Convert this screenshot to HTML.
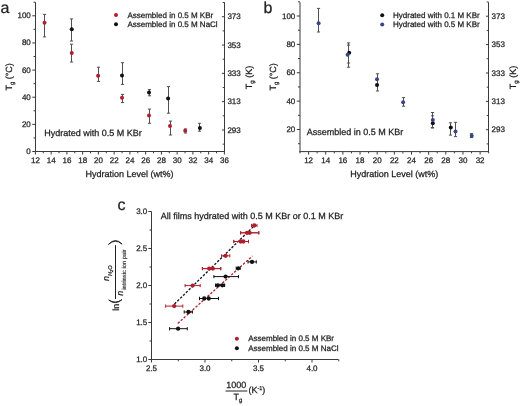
<!DOCTYPE html>
<html><head><meta charset="utf-8"><title>Figure</title>
<style>
html,body{margin:0;padding:0;background:#fff;}
body{width:520px;height:406px;overflow:hidden;}
svg{display:block;text-rendering:geometricPrecision;}
text{stroke:#222;stroke-width:0.25px;font-family:"Liberation Sans",Arial,Helvetica,sans-serif;}
</style></head>
<body>
<svg width="520" height="406" viewBox="0 0 520 406">
<rect width="520" height="406" fill="#fff"/>
<line x1="35.50" y1="2.30" x2="35.50" y2="152.00" stroke="#3a3a3a" stroke-width="1" />
<line x1="35.00" y1="151.50" x2="225.00" y2="151.50" stroke="#3a3a3a" stroke-width="1" />
<line x1="224.50" y1="2.30" x2="224.50" y2="151.50" stroke="#3a3a3a" stroke-width="1" />
<line x1="32.30" y1="151.50" x2="35.50" y2="151.50" stroke="#3a3a3a" stroke-width="1" />
<text x="30.80" y="154.00" font-size="8" text-anchor="end" fill="#222222" >0</text>
<line x1="33.50" y1="137.93" x2="35.50" y2="137.93" stroke="#3a3a3a" stroke-width="1" />
<line x1="32.30" y1="124.36" x2="35.50" y2="124.36" stroke="#3a3a3a" stroke-width="1" />
<text x="30.80" y="126.86" font-size="8" text-anchor="end" fill="#222222" >20</text>
<line x1="33.50" y1="110.79" x2="35.50" y2="110.79" stroke="#3a3a3a" stroke-width="1" />
<line x1="32.30" y1="97.22" x2="35.50" y2="97.22" stroke="#3a3a3a" stroke-width="1" />
<text x="30.80" y="99.72" font-size="8" text-anchor="end" fill="#222222" >40</text>
<line x1="33.50" y1="83.65" x2="35.50" y2="83.65" stroke="#3a3a3a" stroke-width="1" />
<line x1="32.30" y1="70.08" x2="35.50" y2="70.08" stroke="#3a3a3a" stroke-width="1" />
<text x="30.80" y="72.58" font-size="8" text-anchor="end" fill="#222222" >60</text>
<line x1="33.50" y1="56.51" x2="35.50" y2="56.51" stroke="#3a3a3a" stroke-width="1" />
<line x1="32.30" y1="42.94" x2="35.50" y2="42.94" stroke="#3a3a3a" stroke-width="1" />
<text x="30.80" y="45.44" font-size="8" text-anchor="end" fill="#222222" >80</text>
<line x1="33.50" y1="29.37" x2="35.50" y2="29.37" stroke="#3a3a3a" stroke-width="1" />
<line x1="32.30" y1="15.80" x2="35.50" y2="15.80" stroke="#3a3a3a" stroke-width="1" />
<text x="30.80" y="18.30" font-size="8" text-anchor="end" fill="#222222" >100</text>
<line x1="33.50" y1="2.23" x2="35.50" y2="2.23" stroke="#3a3a3a" stroke-width="1" />
<line x1="35.40" y1="151.50" x2="35.40" y2="154.50" stroke="#3a3a3a" stroke-width="1" />
<text x="35.40" y="163.20" font-size="8" text-anchor="middle" fill="#222222" >12</text>
<line x1="43.27" y1="151.50" x2="43.27" y2="153.30" stroke="#3a3a3a" stroke-width="1" />
<line x1="51.15" y1="151.50" x2="51.15" y2="154.50" stroke="#3a3a3a" stroke-width="1" />
<text x="51.15" y="163.20" font-size="8" text-anchor="middle" fill="#222222" >14</text>
<line x1="59.02" y1="151.50" x2="59.02" y2="153.30" stroke="#3a3a3a" stroke-width="1" />
<line x1="66.90" y1="151.50" x2="66.90" y2="154.50" stroke="#3a3a3a" stroke-width="1" />
<text x="66.90" y="163.20" font-size="8" text-anchor="middle" fill="#222222" >16</text>
<line x1="74.78" y1="151.50" x2="74.78" y2="153.30" stroke="#3a3a3a" stroke-width="1" />
<line x1="82.65" y1="151.50" x2="82.65" y2="154.50" stroke="#3a3a3a" stroke-width="1" />
<text x="82.65" y="163.20" font-size="8" text-anchor="middle" fill="#222222" >18</text>
<line x1="90.53" y1="151.50" x2="90.53" y2="153.30" stroke="#3a3a3a" stroke-width="1" />
<line x1="98.40" y1="151.50" x2="98.40" y2="154.50" stroke="#3a3a3a" stroke-width="1" />
<text x="98.40" y="163.20" font-size="8" text-anchor="middle" fill="#222222" >20</text>
<line x1="106.28" y1="151.50" x2="106.28" y2="153.30" stroke="#3a3a3a" stroke-width="1" />
<line x1="114.15" y1="151.50" x2="114.15" y2="154.50" stroke="#3a3a3a" stroke-width="1" />
<text x="114.15" y="163.20" font-size="8" text-anchor="middle" fill="#222222" >22</text>
<line x1="122.03" y1="151.50" x2="122.03" y2="153.30" stroke="#3a3a3a" stroke-width="1" />
<line x1="129.90" y1="151.50" x2="129.90" y2="154.50" stroke="#3a3a3a" stroke-width="1" />
<text x="129.90" y="163.20" font-size="8" text-anchor="middle" fill="#222222" >24</text>
<line x1="137.78" y1="151.50" x2="137.78" y2="153.30" stroke="#3a3a3a" stroke-width="1" />
<line x1="145.65" y1="151.50" x2="145.65" y2="154.50" stroke="#3a3a3a" stroke-width="1" />
<text x="145.65" y="163.20" font-size="8" text-anchor="middle" fill="#222222" >26</text>
<line x1="153.53" y1="151.50" x2="153.53" y2="153.30" stroke="#3a3a3a" stroke-width="1" />
<line x1="161.40" y1="151.50" x2="161.40" y2="154.50" stroke="#3a3a3a" stroke-width="1" />
<text x="161.40" y="163.20" font-size="8" text-anchor="middle" fill="#222222" >28</text>
<line x1="169.28" y1="151.50" x2="169.28" y2="153.30" stroke="#3a3a3a" stroke-width="1" />
<line x1="177.15" y1="151.50" x2="177.15" y2="154.50" stroke="#3a3a3a" stroke-width="1" />
<text x="177.15" y="163.20" font-size="8" text-anchor="middle" fill="#222222" >30</text>
<line x1="185.03" y1="151.50" x2="185.03" y2="153.30" stroke="#3a3a3a" stroke-width="1" />
<line x1="192.90" y1="151.50" x2="192.90" y2="154.50" stroke="#3a3a3a" stroke-width="1" />
<text x="192.90" y="163.20" font-size="8" text-anchor="middle" fill="#222222" >32</text>
<line x1="200.78" y1="151.50" x2="200.78" y2="153.30" stroke="#3a3a3a" stroke-width="1" />
<line x1="208.65" y1="151.50" x2="208.65" y2="154.50" stroke="#3a3a3a" stroke-width="1" />
<text x="208.65" y="163.20" font-size="8" text-anchor="middle" fill="#222222" >34</text>
<line x1="216.53" y1="151.50" x2="216.53" y2="153.30" stroke="#3a3a3a" stroke-width="1" />
<line x1="224.40" y1="151.50" x2="224.40" y2="154.50" stroke="#3a3a3a" stroke-width="1" />
<text x="224.40" y="163.20" font-size="8" text-anchor="middle" fill="#222222" >36</text>
<line x1="222.70" y1="144.16" x2="224.50" y2="144.16" stroke="#3a3a3a" stroke-width="1" />
<line x1="221.90" y1="130.00" x2="224.50" y2="130.00" stroke="#3a3a3a" stroke-width="1" />
<text x="227.40" y="132.60" font-size="8" text-anchor="start" fill="#222222" >293</text>
<line x1="222.70" y1="115.84" x2="224.50" y2="115.84" stroke="#3a3a3a" stroke-width="1" />
<line x1="221.90" y1="101.68" x2="224.50" y2="101.68" stroke="#3a3a3a" stroke-width="1" />
<text x="227.40" y="104.28" font-size="8" text-anchor="start" fill="#222222" >313</text>
<line x1="222.70" y1="87.52" x2="224.50" y2="87.52" stroke="#3a3a3a" stroke-width="1" />
<line x1="221.90" y1="73.36" x2="224.50" y2="73.36" stroke="#3a3a3a" stroke-width="1" />
<text x="227.40" y="75.96" font-size="8" text-anchor="start" fill="#222222" >333</text>
<line x1="222.70" y1="59.20" x2="224.50" y2="59.20" stroke="#3a3a3a" stroke-width="1" />
<line x1="221.90" y1="45.04" x2="224.50" y2="45.04" stroke="#3a3a3a" stroke-width="1" />
<text x="227.40" y="47.64" font-size="8" text-anchor="start" fill="#222222" >353</text>
<line x1="222.70" y1="30.88" x2="224.50" y2="30.88" stroke="#3a3a3a" stroke-width="1" />
<line x1="221.90" y1="16.72" x2="224.50" y2="16.72" stroke="#3a3a3a" stroke-width="1" />
<text x="227.40" y="19.32" font-size="8" text-anchor="start" fill="#222222" >373</text>
<line x1="222.70" y1="2.56" x2="224.50" y2="2.56" stroke="#3a3a3a" stroke-width="1" />
<line x1="71.50" y1="18.90" x2="71.50" y2="41.00" stroke="#505050" stroke-width="1.0" />
<line x1="69.90" y1="18.90" x2="73.10" y2="18.90" stroke="#505050" stroke-width="1.0" />
<line x1="69.90" y1="41.00" x2="73.10" y2="41.00" stroke="#505050" stroke-width="1.0" />
<line x1="122.50" y1="62.70" x2="122.50" y2="84.40" stroke="#505050" stroke-width="1.0" />
<line x1="120.90" y1="62.70" x2="124.10" y2="62.70" stroke="#505050" stroke-width="1.0" />
<line x1="120.90" y1="84.40" x2="124.10" y2="84.40" stroke="#505050" stroke-width="1.0" />
<line x1="149.50" y1="89.60" x2="149.50" y2="95.80" stroke="#505050" stroke-width="1.0" />
<line x1="147.90" y1="89.60" x2="151.10" y2="89.60" stroke="#505050" stroke-width="1.0" />
<line x1="147.90" y1="95.80" x2="151.10" y2="95.80" stroke="#505050" stroke-width="1.0" />
<line x1="168.50" y1="86.60" x2="168.50" y2="113.20" stroke="#505050" stroke-width="1.0" />
<line x1="166.90" y1="86.60" x2="170.10" y2="86.60" stroke="#505050" stroke-width="1.0" />
<line x1="166.90" y1="113.20" x2="170.10" y2="113.20" stroke="#505050" stroke-width="1.0" />
<line x1="199.50" y1="123.30" x2="199.50" y2="131.20" stroke="#505050" stroke-width="1.0" />
<line x1="197.90" y1="123.30" x2="201.10" y2="123.30" stroke="#505050" stroke-width="1.0" />
<line x1="197.90" y1="131.20" x2="201.10" y2="131.20" stroke="#505050" stroke-width="1.0" />
<line x1="44.50" y1="14.40" x2="44.50" y2="36.90" stroke="#505050" stroke-width="1.0" />
<line x1="42.90" y1="14.40" x2="46.10" y2="14.40" stroke="#505050" stroke-width="1.0" />
<line x1="42.90" y1="36.90" x2="46.10" y2="36.90" stroke="#505050" stroke-width="1.0" />
<line x1="71.50" y1="44.20" x2="71.50" y2="62.00" stroke="#505050" stroke-width="1.0" />
<line x1="69.90" y1="44.20" x2="73.10" y2="44.20" stroke="#505050" stroke-width="1.0" />
<line x1="69.90" y1="62.00" x2="73.10" y2="62.00" stroke="#505050" stroke-width="1.0" />
<line x1="98.50" y1="67.20" x2="98.50" y2="81.40" stroke="#505050" stroke-width="1.0" />
<line x1="96.90" y1="67.20" x2="100.10" y2="67.20" stroke="#505050" stroke-width="1.0" />
<line x1="96.90" y1="81.40" x2="100.10" y2="81.40" stroke="#505050" stroke-width="1.0" />
<line x1="122.50" y1="94.40" x2="122.50" y2="102.60" stroke="#505050" stroke-width="1.0" />
<line x1="120.90" y1="94.40" x2="124.10" y2="94.40" stroke="#505050" stroke-width="1.0" />
<line x1="120.90" y1="102.60" x2="124.10" y2="102.60" stroke="#505050" stroke-width="1.0" />
<line x1="149.50" y1="109.10" x2="149.50" y2="123.30" stroke="#505050" stroke-width="1.0" />
<line x1="147.90" y1="109.10" x2="151.10" y2="109.10" stroke="#505050" stroke-width="1.0" />
<line x1="147.90" y1="123.30" x2="151.10" y2="123.30" stroke="#505050" stroke-width="1.0" />
<line x1="170.50" y1="121.10" x2="170.50" y2="135.00" stroke="#505050" stroke-width="1.0" />
<line x1="168.90" y1="121.10" x2="172.10" y2="121.10" stroke="#505050" stroke-width="1.0" />
<line x1="168.90" y1="135.00" x2="172.10" y2="135.00" stroke="#505050" stroke-width="1.0" />
<line x1="185.50" y1="128.90" x2="185.50" y2="133.00" stroke="#505050" stroke-width="1.0" />
<line x1="183.90" y1="128.90" x2="187.10" y2="128.90" stroke="#505050" stroke-width="1.0" />
<line x1="183.90" y1="133.00" x2="187.10" y2="133.00" stroke="#505050" stroke-width="1.0" />
<circle cx="71.75" cy="29.20" r="2.0" fill="#111111"/>
<circle cx="122.00" cy="75.50" r="2.0" fill="#111111"/>
<circle cx="149.00" cy="92.60" r="2.0" fill="#111111"/>
<circle cx="168.10" cy="98.50" r="2.0" fill="#111111"/>
<circle cx="199.90" cy="128.00" r="2.0" fill="#111111"/>
<circle cx="44.50" cy="22.70" r="2.0" fill="#b01e2e"/>
<circle cx="71.75" cy="52.90" r="2.0" fill="#b01e2e"/>
<circle cx="98.10" cy="75.80" r="2.0" fill="#b01e2e"/>
<circle cx="122.00" cy="97.70" r="2.0" fill="#b01e2e"/>
<circle cx="149.00" cy="115.50" r="2.0" fill="#b01e2e"/>
<circle cx="170.00" cy="126.10" r="2.0" fill="#b01e2e"/>
<circle cx="185.20" cy="130.70" r="2.0" fill="#b01e2e"/>
<circle cx="116.00" cy="15.00" r="2.0" fill="#b01e2e"/>
<circle cx="116.00" cy="24.30" r="2.0" fill="#111111"/>
<text x="127.40" y="17.60" font-size="8" text-anchor="start" fill="#222222" >Assembled in 0.5 M KBr</text>
<text x="127.40" y="27.10" font-size="8" text-anchor="start" fill="#222222" >Assembled in 0.5 M NaCl</text>
<text x="44.30" y="135.80" font-size="9" text-anchor="start" fill="#222222" >Hydrated with 0.5 M KBr</text>
<text x="129.60" y="177.10" font-size="9" text-anchor="middle" fill="#222222" >Hydration Level (wt%)</text>
<text x="0.40" y="12.90" font-size="16" text-anchor="start" fill="#222222" >a</text>
<text transform="translate(11.5,90.6) rotate(-90)" font-size="9" fill="#222222">T<tspan font-size="6" dy="2">g</tspan><tspan dy="-2"> (°C)</tspan></text>
<text transform="translate(251.8,89.2) rotate(-90)" font-size="9" fill="#222222">T<tspan font-size="6" dy="2">g</tspan><tspan dy="-2"> (K)</tspan></text>
<line x1="300.00" y1="2.20" x2="300.00" y2="152.10" stroke="#3a3a3a" stroke-width="1" />
<line x1="299.50" y1="151.60" x2="489.00" y2="151.60" stroke="#3a3a3a" stroke-width="1" />
<line x1="488.50" y1="2.20" x2="488.50" y2="151.60" stroke="#3a3a3a" stroke-width="1" />
<line x1="298.00" y1="143.71" x2="300.00" y2="143.71" stroke="#3a3a3a" stroke-width="1" />
<line x1="296.80" y1="129.52" x2="300.00" y2="129.52" stroke="#3a3a3a" stroke-width="1" />
<text x="295.30" y="132.02" font-size="8" text-anchor="end" fill="#222222" >20</text>
<line x1="298.00" y1="115.33" x2="300.00" y2="115.33" stroke="#3a3a3a" stroke-width="1" />
<line x1="296.80" y1="101.14" x2="300.00" y2="101.14" stroke="#3a3a3a" stroke-width="1" />
<text x="295.30" y="103.64" font-size="8" text-anchor="end" fill="#222222" >40</text>
<line x1="298.00" y1="86.95" x2="300.00" y2="86.95" stroke="#3a3a3a" stroke-width="1" />
<line x1="296.80" y1="72.76" x2="300.00" y2="72.76" stroke="#3a3a3a" stroke-width="1" />
<text x="295.30" y="75.26" font-size="8" text-anchor="end" fill="#222222" >60</text>
<line x1="298.00" y1="58.57" x2="300.00" y2="58.57" stroke="#3a3a3a" stroke-width="1" />
<line x1="296.80" y1="44.38" x2="300.00" y2="44.38" stroke="#3a3a3a" stroke-width="1" />
<text x="295.30" y="46.88" font-size="8" text-anchor="end" fill="#222222" >80</text>
<line x1="298.00" y1="30.19" x2="300.00" y2="30.19" stroke="#3a3a3a" stroke-width="1" />
<line x1="296.80" y1="16.00" x2="300.00" y2="16.00" stroke="#3a3a3a" stroke-width="1" />
<text x="295.30" y="18.50" font-size="8" text-anchor="end" fill="#222222" >100</text>
<line x1="298.00" y1="1.81" x2="300.00" y2="1.81" stroke="#3a3a3a" stroke-width="1" />
<line x1="300.00" y1="151.60" x2="300.00" y2="153.40" stroke="#3a3a3a" stroke-width="1" />
<line x1="308.58" y1="151.60" x2="308.58" y2="154.60" stroke="#3a3a3a" stroke-width="1" />
<text x="308.58" y="163.40" font-size="8" text-anchor="middle" fill="#222222" >12</text>
<line x1="317.15" y1="151.60" x2="317.15" y2="153.40" stroke="#3a3a3a" stroke-width="1" />
<line x1="325.73" y1="151.60" x2="325.73" y2="154.60" stroke="#3a3a3a" stroke-width="1" />
<text x="325.73" y="163.40" font-size="8" text-anchor="middle" fill="#222222" >14</text>
<line x1="334.31" y1="151.60" x2="334.31" y2="153.40" stroke="#3a3a3a" stroke-width="1" />
<line x1="342.88" y1="151.60" x2="342.88" y2="154.60" stroke="#3a3a3a" stroke-width="1" />
<text x="342.88" y="163.40" font-size="8" text-anchor="middle" fill="#222222" >16</text>
<line x1="351.46" y1="151.60" x2="351.46" y2="153.40" stroke="#3a3a3a" stroke-width="1" />
<line x1="360.04" y1="151.60" x2="360.04" y2="154.60" stroke="#3a3a3a" stroke-width="1" />
<text x="360.04" y="163.40" font-size="8" text-anchor="middle" fill="#222222" >18</text>
<line x1="368.62" y1="151.60" x2="368.62" y2="153.40" stroke="#3a3a3a" stroke-width="1" />
<line x1="377.19" y1="151.60" x2="377.19" y2="154.60" stroke="#3a3a3a" stroke-width="1" />
<text x="377.19" y="163.40" font-size="8" text-anchor="middle" fill="#222222" >20</text>
<line x1="385.77" y1="151.60" x2="385.77" y2="153.40" stroke="#3a3a3a" stroke-width="1" />
<line x1="394.35" y1="151.60" x2="394.35" y2="154.60" stroke="#3a3a3a" stroke-width="1" />
<text x="394.35" y="163.40" font-size="8" text-anchor="middle" fill="#222222" >22</text>
<line x1="402.92" y1="151.60" x2="402.92" y2="153.40" stroke="#3a3a3a" stroke-width="1" />
<line x1="411.50" y1="151.60" x2="411.50" y2="154.60" stroke="#3a3a3a" stroke-width="1" />
<text x="411.50" y="163.40" font-size="8" text-anchor="middle" fill="#222222" >24</text>
<line x1="420.08" y1="151.60" x2="420.08" y2="153.40" stroke="#3a3a3a" stroke-width="1" />
<line x1="428.65" y1="151.60" x2="428.65" y2="154.60" stroke="#3a3a3a" stroke-width="1" />
<text x="428.65" y="163.40" font-size="8" text-anchor="middle" fill="#222222" >26</text>
<line x1="437.23" y1="151.60" x2="437.23" y2="153.40" stroke="#3a3a3a" stroke-width="1" />
<line x1="445.81" y1="151.60" x2="445.81" y2="154.60" stroke="#3a3a3a" stroke-width="1" />
<text x="445.81" y="163.40" font-size="8" text-anchor="middle" fill="#222222" >28</text>
<line x1="454.39" y1="151.60" x2="454.39" y2="153.40" stroke="#3a3a3a" stroke-width="1" />
<line x1="462.96" y1="151.60" x2="462.96" y2="154.60" stroke="#3a3a3a" stroke-width="1" />
<text x="462.96" y="163.40" font-size="8" text-anchor="middle" fill="#222222" >30</text>
<line x1="471.54" y1="151.60" x2="471.54" y2="153.40" stroke="#3a3a3a" stroke-width="1" />
<line x1="480.12" y1="151.60" x2="480.12" y2="154.60" stroke="#3a3a3a" stroke-width="1" />
<text x="480.12" y="163.40" font-size="8" text-anchor="middle" fill="#222222" >32</text>
<line x1="488.69" y1="151.60" x2="488.69" y2="153.40" stroke="#3a3a3a" stroke-width="1" />
<line x1="486.70" y1="143.92" x2="488.50" y2="143.92" stroke="#3a3a3a" stroke-width="1" />
<line x1="485.90" y1="129.73" x2="488.50" y2="129.73" stroke="#3a3a3a" stroke-width="1" />
<text x="491.50" y="132.33" font-size="8" text-anchor="start" fill="#222222" >293</text>
<line x1="486.70" y1="115.54" x2="488.50" y2="115.54" stroke="#3a3a3a" stroke-width="1" />
<line x1="485.90" y1="101.35" x2="488.50" y2="101.35" stroke="#3a3a3a" stroke-width="1" />
<text x="491.50" y="103.95" font-size="8" text-anchor="start" fill="#222222" >313</text>
<line x1="486.70" y1="87.16" x2="488.50" y2="87.16" stroke="#3a3a3a" stroke-width="1" />
<line x1="485.90" y1="72.97" x2="488.50" y2="72.97" stroke="#3a3a3a" stroke-width="1" />
<text x="491.50" y="75.57" font-size="8" text-anchor="start" fill="#222222" >333</text>
<line x1="486.70" y1="58.78" x2="488.50" y2="58.78" stroke="#3a3a3a" stroke-width="1" />
<line x1="485.90" y1="44.59" x2="488.50" y2="44.59" stroke="#3a3a3a" stroke-width="1" />
<text x="491.50" y="47.19" font-size="8" text-anchor="start" fill="#222222" >353</text>
<line x1="486.70" y1="30.40" x2="488.50" y2="30.40" stroke="#3a3a3a" stroke-width="1" />
<line x1="485.90" y1="16.21" x2="488.50" y2="16.21" stroke="#3a3a3a" stroke-width="1" />
<text x="491.50" y="18.81" font-size="8" text-anchor="start" fill="#222222" >373</text>
<line x1="486.70" y1="2.02" x2="488.50" y2="2.02" stroke="#3a3a3a" stroke-width="1" />
<line x1="318.50" y1="8.40" x2="318.50" y2="32.00" stroke="#505050" stroke-width="1.0" />
<line x1="316.90" y1="8.40" x2="320.10" y2="8.40" stroke="#505050" stroke-width="1.0" />
<line x1="316.90" y1="32.00" x2="320.10" y2="32.00" stroke="#505050" stroke-width="1.0" />
<line x1="348.50" y1="42.90" x2="348.50" y2="67.20" stroke="#505050" stroke-width="1.0" />
<line x1="346.90" y1="42.90" x2="350.10" y2="42.90" stroke="#505050" stroke-width="1.0" />
<line x1="346.90" y1="67.20" x2="350.10" y2="67.20" stroke="#505050" stroke-width="1.0" />
<line x1="377.50" y1="73.80" x2="377.50" y2="84.80" stroke="#505050" stroke-width="1.0" />
<line x1="375.90" y1="73.80" x2="379.10" y2="73.80" stroke="#505050" stroke-width="1.0" />
<line x1="375.90" y1="84.80" x2="379.10" y2="84.80" stroke="#505050" stroke-width="1.0" />
<line x1="403.50" y1="97.60" x2="403.50" y2="106.20" stroke="#505050" stroke-width="1.0" />
<line x1="401.90" y1="97.60" x2="405.10" y2="97.60" stroke="#505050" stroke-width="1.0" />
<line x1="401.90" y1="106.20" x2="405.10" y2="106.20" stroke="#505050" stroke-width="1.0" />
<line x1="432.50" y1="112.50" x2="432.50" y2="127.60" stroke="#505050" stroke-width="1.0" />
<line x1="430.90" y1="112.50" x2="434.10" y2="112.50" stroke="#505050" stroke-width="1.0" />
<line x1="430.90" y1="127.60" x2="434.10" y2="127.60" stroke="#505050" stroke-width="1.0" />
<line x1="455.50" y1="122.30" x2="455.50" y2="136.60" stroke="#505050" stroke-width="1.0" />
<line x1="453.90" y1="122.30" x2="457.10" y2="122.30" stroke="#505050" stroke-width="1.0" />
<line x1="453.90" y1="136.60" x2="457.10" y2="136.60" stroke="#505050" stroke-width="1.0" />
<line x1="471.50" y1="133.60" x2="471.50" y2="137.60" stroke="#505050" stroke-width="1.0" />
<line x1="469.90" y1="133.60" x2="473.10" y2="133.60" stroke="#505050" stroke-width="1.0" />
<line x1="469.90" y1="137.60" x2="473.10" y2="137.60" stroke="#505050" stroke-width="1.0" />
<line x1="348.50" y1="45.10" x2="348.50" y2="63.00" stroke="#505050" stroke-width="1.0" />
<line x1="346.90" y1="45.10" x2="350.10" y2="45.10" stroke="#505050" stroke-width="1.0" />
<line x1="346.90" y1="63.00" x2="350.10" y2="63.00" stroke="#505050" stroke-width="1.0" />
<line x1="377.50" y1="79.50" x2="377.50" y2="91.00" stroke="#505050" stroke-width="1.0" />
<line x1="375.90" y1="79.50" x2="379.10" y2="79.50" stroke="#505050" stroke-width="1.0" />
<line x1="375.90" y1="91.00" x2="379.10" y2="91.00" stroke="#505050" stroke-width="1.0" />
<line x1="432.50" y1="115.80" x2="432.50" y2="128.00" stroke="#505050" stroke-width="1.0" />
<line x1="430.90" y1="115.80" x2="434.10" y2="115.80" stroke="#505050" stroke-width="1.0" />
<line x1="430.90" y1="128.00" x2="434.10" y2="128.00" stroke="#505050" stroke-width="1.0" />
<line x1="450.50" y1="122.80" x2="450.50" y2="135.10" stroke="#505050" stroke-width="1.0" />
<line x1="448.90" y1="122.80" x2="452.10" y2="122.80" stroke="#505050" stroke-width="1.0" />
<line x1="448.90" y1="135.10" x2="452.10" y2="135.10" stroke="#505050" stroke-width="1.0" />
<circle cx="349.20" cy="52.80" r="2.0" fill="#111111"/>
<circle cx="377.00" cy="85.00" r="2.0" fill="#111111"/>
<circle cx="432.80" cy="123.20" r="2.0" fill="#111111"/>
<circle cx="450.80" cy="127.50" r="2.0" fill="#111111"/>
<circle cx="318.60" cy="23.30" r="2.0" fill="#3a4486"/>
<circle cx="347.60" cy="54.80" r="2.0" fill="#3a4486"/>
<circle cx="377.00" cy="79.30" r="2.0" fill="#3a4486"/>
<circle cx="403.10" cy="102.20" r="2.0" fill="#3a4486"/>
<circle cx="432.80" cy="119.90" r="2.0" fill="#3a4486"/>
<circle cx="455.50" cy="131.50" r="2.0" fill="#3a4486"/>
<circle cx="471.70" cy="135.80" r="2.0" fill="#3a4486"/>
<circle cx="382.20" cy="15.30" r="2.0" fill="#111111"/>
<circle cx="382.20" cy="24.60" r="2.0" fill="#3a4486"/>
<text x="393.00" y="17.60" font-size="8" text-anchor="start" fill="#222222" >Hydrated with 0.1 M KBr</text>
<text x="393.00" y="27.10" font-size="8" text-anchor="start" fill="#222222" >Hydrated with 0.5 M KBr</text>
<text x="306.80" y="134.70" font-size="9" text-anchor="start" fill="#222222" >Assembled in 0.5 M KBr</text>
<text x="394.30" y="176.60" font-size="9" text-anchor="middle" fill="#222222" >Hydration Level (wt%)</text>
<text x="263.50" y="12.90" font-size="16" text-anchor="start" fill="#222222" >b</text>
<text transform="translate(276.0,90.6) rotate(-90)" font-size="9" fill="#222222">T<tspan font-size="6" dy="2">g</tspan><tspan dy="-2"> (°C)</tspan></text>
<text transform="translate(516.0,89.2) rotate(-90)" font-size="9" fill="#222222">T<tspan font-size="6" dy="2">g</tspan><tspan dy="-2"> (K)</tspan></text>
<line x1="151.50" y1="211.50" x2="151.50" y2="360.00" stroke="#3a3a3a" stroke-width="1" />
<line x1="151.00" y1="359.50" x2="338.50" y2="359.50" stroke="#3a3a3a" stroke-width="1" />
<line x1="148.30" y1="359.50" x2="151.50" y2="359.50" stroke="#3a3a3a" stroke-width="1" />
<text x="147.30" y="362.40" font-size="8" text-anchor="end" fill="#222222" >1.0</text>
<line x1="149.50" y1="341.00" x2="151.50" y2="341.00" stroke="#3a3a3a" stroke-width="1" />
<line x1="148.30" y1="322.50" x2="151.50" y2="322.50" stroke="#3a3a3a" stroke-width="1" />
<text x="147.30" y="325.40" font-size="8" text-anchor="end" fill="#222222" >1.5</text>
<line x1="149.50" y1="304.00" x2="151.50" y2="304.00" stroke="#3a3a3a" stroke-width="1" />
<line x1="148.30" y1="285.50" x2="151.50" y2="285.50" stroke="#3a3a3a" stroke-width="1" />
<text x="147.30" y="288.40" font-size="8" text-anchor="end" fill="#222222" >2.0</text>
<line x1="149.50" y1="267.00" x2="151.50" y2="267.00" stroke="#3a3a3a" stroke-width="1" />
<line x1="148.30" y1="248.50" x2="151.50" y2="248.50" stroke="#3a3a3a" stroke-width="1" />
<text x="147.30" y="251.40" font-size="8" text-anchor="end" fill="#222222" >2.5</text>
<line x1="149.50" y1="230.00" x2="151.50" y2="230.00" stroke="#3a3a3a" stroke-width="1" />
<line x1="148.30" y1="211.50" x2="151.50" y2="211.50" stroke="#3a3a3a" stroke-width="1" />
<text x="147.30" y="214.40" font-size="8" text-anchor="end" fill="#222222" >3.0</text>
<line x1="151.50" y1="359.50" x2="151.50" y2="362.50" stroke="#3a3a3a" stroke-width="1" />
<text x="151.50" y="370.60" font-size="8" text-anchor="middle" fill="#222222" >2.5</text>
<line x1="178.25" y1="359.50" x2="178.25" y2="361.30" stroke="#3a3a3a" stroke-width="1" />
<line x1="205.00" y1="359.50" x2="205.00" y2="362.50" stroke="#3a3a3a" stroke-width="1" />
<text x="205.00" y="370.60" font-size="8" text-anchor="middle" fill="#222222" >3.0</text>
<line x1="231.75" y1="359.50" x2="231.75" y2="361.30" stroke="#3a3a3a" stroke-width="1" />
<line x1="258.50" y1="359.50" x2="258.50" y2="362.50" stroke="#3a3a3a" stroke-width="1" />
<text x="258.50" y="370.60" font-size="8" text-anchor="middle" fill="#222222" >3.5</text>
<line x1="285.25" y1="359.50" x2="285.25" y2="361.30" stroke="#3a3a3a" stroke-width="1" />
<line x1="312.00" y1="359.50" x2="312.00" y2="362.50" stroke="#3a3a3a" stroke-width="1" />
<text x="312.00" y="370.60" font-size="8" text-anchor="middle" fill="#222222" >4.0</text>
<line x1="338.75" y1="359.50" x2="338.75" y2="361.30" stroke="#3a3a3a" stroke-width="1" />
<line x1="174.50" y1="304.00" x2="255.80" y2="224.20" stroke="#111" stroke-width="1.3" stroke-dasharray="2.4,1.6"/>
<line x1="177.80" y1="323.40" x2="252.40" y2="256.00" stroke="#b01c28" stroke-width="1.3" stroke-dasharray="2.4,1.6"/>
<line x1="251.50" y1="225.50" x2="257.00" y2="225.50" stroke="#b01e2e" stroke-width="1" />
<line x1="251.50" y1="223.90" x2="251.50" y2="227.10" stroke="#b01e2e" stroke-width="1" />
<line x1="257.00" y1="223.90" x2="257.00" y2="227.10" stroke="#b01e2e" stroke-width="1" />
<line x1="240.60" y1="232.80" x2="258.80" y2="232.80" stroke="#b01e2e" stroke-width="1" />
<line x1="240.60" y1="231.20" x2="240.60" y2="234.40" stroke="#b01e2e" stroke-width="1" />
<line x1="258.80" y1="231.20" x2="258.80" y2="234.40" stroke="#b01e2e" stroke-width="1" />
<line x1="240.60" y1="232.80" x2="258.80" y2="232.80" stroke="#b01e2e" stroke-width="1" />
<line x1="240.60" y1="231.20" x2="240.60" y2="234.40" stroke="#b01e2e" stroke-width="1" />
<line x1="258.80" y1="231.20" x2="258.80" y2="234.40" stroke="#b01e2e" stroke-width="1" />
<line x1="233.80" y1="241.50" x2="248.50" y2="241.50" stroke="#b01e2e" stroke-width="1" />
<line x1="233.80" y1="239.90" x2="233.80" y2="243.10" stroke="#b01e2e" stroke-width="1" />
<line x1="248.50" y1="239.90" x2="248.50" y2="243.10" stroke="#b01e2e" stroke-width="1" />
<line x1="233.80" y1="241.50" x2="248.50" y2="241.50" stroke="#b01e2e" stroke-width="1" />
<line x1="233.80" y1="239.90" x2="233.80" y2="243.10" stroke="#b01e2e" stroke-width="1" />
<line x1="248.50" y1="239.90" x2="248.50" y2="243.10" stroke="#b01e2e" stroke-width="1" />
<line x1="221.60" y1="255.80" x2="229.80" y2="255.80" stroke="#b01e2e" stroke-width="1" />
<line x1="221.60" y1="254.20" x2="221.60" y2="257.40" stroke="#b01e2e" stroke-width="1" />
<line x1="229.80" y1="254.20" x2="229.80" y2="257.40" stroke="#b01e2e" stroke-width="1" />
<line x1="202.40" y1="268.60" x2="220.80" y2="268.60" stroke="#b01e2e" stroke-width="1" />
<line x1="202.40" y1="267.00" x2="202.40" y2="270.20" stroke="#b01e2e" stroke-width="1" />
<line x1="220.80" y1="267.00" x2="220.80" y2="270.20" stroke="#b01e2e" stroke-width="1" />
<line x1="202.40" y1="268.60" x2="220.80" y2="268.60" stroke="#b01e2e" stroke-width="1" />
<line x1="202.40" y1="267.00" x2="202.40" y2="270.20" stroke="#b01e2e" stroke-width="1" />
<line x1="220.80" y1="267.00" x2="220.80" y2="270.20" stroke="#b01e2e" stroke-width="1" />
<line x1="185.10" y1="285.60" x2="200.20" y2="285.60" stroke="#b01e2e" stroke-width="1" />
<line x1="185.10" y1="284.00" x2="185.10" y2="287.20" stroke="#b01e2e" stroke-width="1" />
<line x1="200.20" y1="284.00" x2="200.20" y2="287.20" stroke="#b01e2e" stroke-width="1" />
<line x1="165.60" y1="306.10" x2="182.80" y2="306.10" stroke="#b01e2e" stroke-width="1" />
<line x1="165.60" y1="304.50" x2="165.60" y2="307.70" stroke="#b01e2e" stroke-width="1" />
<line x1="182.80" y1="304.50" x2="182.80" y2="307.70" stroke="#b01e2e" stroke-width="1" />
<line x1="248.00" y1="261.90" x2="256.30" y2="261.90" stroke="#111111" stroke-width="1" />
<line x1="248.00" y1="260.30" x2="248.00" y2="263.50" stroke="#111111" stroke-width="1" />
<line x1="256.30" y1="260.30" x2="256.30" y2="263.50" stroke="#111111" stroke-width="1" />
<line x1="236.20" y1="268.30" x2="240.20" y2="268.30" stroke="#111111" stroke-width="1" />
<line x1="236.20" y1="266.70" x2="236.20" y2="269.90" stroke="#111111" stroke-width="1" />
<line x1="240.20" y1="266.70" x2="240.20" y2="269.90" stroke="#111111" stroke-width="1" />
<line x1="213.90" y1="276.60" x2="238.50" y2="276.60" stroke="#111111" stroke-width="1" />
<line x1="213.90" y1="275.00" x2="213.90" y2="278.20" stroke="#111111" stroke-width="1" />
<line x1="238.50" y1="275.00" x2="238.50" y2="278.20" stroke="#111111" stroke-width="1" />
<line x1="215.70" y1="285.30" x2="224.60" y2="285.30" stroke="#111111" stroke-width="1" />
<line x1="215.70" y1="283.70" x2="215.70" y2="286.90" stroke="#111111" stroke-width="1" />
<line x1="224.60" y1="283.70" x2="224.60" y2="286.90" stroke="#111111" stroke-width="1" />
<line x1="215.70" y1="285.30" x2="224.60" y2="285.30" stroke="#111111" stroke-width="1" />
<line x1="215.70" y1="283.70" x2="215.70" y2="286.90" stroke="#111111" stroke-width="1" />
<line x1="224.60" y1="283.70" x2="224.60" y2="286.90" stroke="#111111" stroke-width="1" />
<line x1="199.50" y1="298.50" x2="218.50" y2="298.50" stroke="#111111" stroke-width="1" />
<line x1="199.50" y1="296.90" x2="199.50" y2="300.10" stroke="#111111" stroke-width="1" />
<line x1="218.50" y1="296.90" x2="218.50" y2="300.10" stroke="#111111" stroke-width="1" />
<line x1="199.50" y1="298.50" x2="218.50" y2="298.50" stroke="#111111" stroke-width="1" />
<line x1="199.50" y1="296.90" x2="199.50" y2="300.10" stroke="#111111" stroke-width="1" />
<line x1="218.50" y1="296.90" x2="218.50" y2="300.10" stroke="#111111" stroke-width="1" />
<line x1="184.20" y1="312.00" x2="192.40" y2="312.00" stroke="#111111" stroke-width="1" />
<line x1="184.20" y1="310.40" x2="184.20" y2="313.60" stroke="#111111" stroke-width="1" />
<line x1="192.40" y1="310.40" x2="192.40" y2="313.60" stroke="#111111" stroke-width="1" />
<line x1="169.60" y1="328.70" x2="187.30" y2="328.70" stroke="#111111" stroke-width="1" />
<line x1="169.60" y1="327.10" x2="169.60" y2="330.30" stroke="#111111" stroke-width="1" />
<line x1="187.30" y1="327.10" x2="187.30" y2="330.30" stroke="#111111" stroke-width="1" />
<circle cx="254.20" cy="225.50" r="2.15" fill="#b01e2e"/>
<circle cx="249.60" cy="232.80" r="2.15" fill="#b01e2e"/>
<circle cx="247.00" cy="232.80" r="2.15" fill="#b01e2e"/>
<circle cx="243.30" cy="241.50" r="2.15" fill="#b01e2e"/>
<circle cx="240.60" cy="241.50" r="2.15" fill="#b01e2e"/>
<circle cx="225.60" cy="255.80" r="2.15" fill="#b01e2e"/>
<circle cx="212.80" cy="268.60" r="2.15" fill="#b01e2e"/>
<circle cx="209.20" cy="268.60" r="2.15" fill="#b01e2e"/>
<circle cx="192.60" cy="285.60" r="2.15" fill="#b01e2e"/>
<circle cx="174.20" cy="306.10" r="2.15" fill="#b01e2e"/>
<circle cx="252.00" cy="261.90" r="2.15" fill="#111111"/>
<circle cx="238.20" cy="268.30" r="2.15" fill="#111111"/>
<circle cx="225.60" cy="276.60" r="2.15" fill="#111111"/>
<circle cx="222.30" cy="285.30" r="2.15" fill="#111111"/>
<circle cx="217.90" cy="285.30" r="2.15" fill="#111111"/>
<circle cx="208.70" cy="298.50" r="2.15" fill="#111111"/>
<circle cx="204.20" cy="298.50" r="2.15" fill="#111111"/>
<circle cx="188.40" cy="312.00" r="2.15" fill="#111111"/>
<circle cx="178.10" cy="328.70" r="2.15" fill="#111111"/>
<text x="160.80" y="218.80" font-size="9" text-anchor="start" fill="#222222" >All films hydrated with 0.5 M KBr or 0.1 M KBr</text>
<circle cx="236.90" cy="338.70" r="2.0" fill="#b01e2e"/>
<circle cx="236.90" cy="348.30" r="2.0" fill="#111111"/>
<text x="248.20" y="341.40" font-size="8" text-anchor="start" fill="#222222" >Assembled in 0.5 M KBr</text>
<text x="248.20" y="350.70" font-size="8" text-anchor="start" fill="#222222" >Assembled in 0.5 M NaCl</text>
<text x="117.60" y="209.50" font-size="16" text-anchor="start" fill="#222222" >c</text>
<text x="236.20" y="388.40" font-size="9" text-anchor="middle" fill="#222222" >1000</text>
<line x1="225.50" y1="391.00" x2="247.30" y2="391.00" stroke="#222222" stroke-width="1.0" />
<text x="233.6" y="400.4" font-size="9" fill="#222222">T<tspan font-size="6" dy="2">g</tspan></text>
<text x="248.4" y="392.6" font-size="9" fill="#222222">(K<tspan font-size="5.5" dy="-3">-1</tspan><tspan dy="3">)</tspan></text>
<g transform="rotate(-90)" fill="#222222"><text x="-310.8" y="118.8" font-size="9">ln</text><path d="M -300.0 108.7 Q -305.5 115.3 -299.6 122.0 Q -304.3 115.3 -300.0 108.7 Z" fill="none" stroke="#222222" stroke-width="0.95"/><path d="M -244.4 108.4 Q -236.9 115.3 -244.1 122.1 Q -238.2 115.3 -244.4 108.4 Z" fill="none" stroke="#222222" stroke-width="0.95"/><line x1="-299.0" y1="115.5" x2="-245.2" y2="115.5" stroke="#222222" stroke-width="1"/><text x="-281.0" y="109.0" font-size="9" font-style="italic">n<tspan font-size="5.6" dy="2.9">H</tspan><tspan font-size="4" dy="1.0">2</tspan><tspan font-size="5.6" dy="-1.0">O</tspan></text><text x="-295.8" y="123.0" font-size="9" font-style="italic">n<tspan font-size="5.8" dx="1.0" dy="3.3" font-style="normal" stroke-width="0.1">intrinsic ion pair</tspan></text></g>
</svg>
</body></html>
